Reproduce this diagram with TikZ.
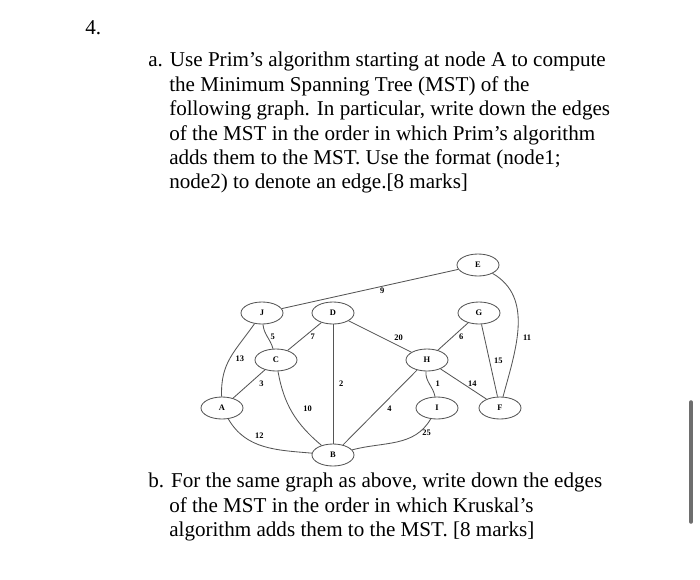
\documentclass[tikz,border=0pt]{standalone}
\usepackage{fontspec}
\setmainfont{Liberation Serif}
\usepackage{tikz}
\usetikzlibrary{arrows.meta,positioning,shapes.geometric}
\definecolor{qEdge}{HTML}{555555}
\definecolor{qBar}{HTML}{6E6E6E}

\begin{document}
\begin{tikzpicture}[x=0.025cm, y=-0.025cm,
  txt/.style={anchor=base west, inner sep=0pt, font=\fontsize{15}{18}\selectfont},
  vtx/.style={draw=qEdge, ellipse, line width=0.6pt, inner sep=0pt, minimum width=1.05cm, minimum height=0.55cm, font=\fontsize{6}{7}\selectfont\bfseries},
  edg/.style={draw=qEdge, line width=0.6pt},
  wt/.style={font=\fontsize{6}{7}\selectfont\bfseries, inner sep=1pt}
]
  \useasboundingbox (0,0) rectangle (700,580);

  % question text
  \node[txt] (num) at (85,34) {4.};
  \node[txt] (qa) at (148,66) {a. Use Prim’s algorithm starting at node A to compute};
  \node[txt] (qa2) at (169,91) {the Minimum Spanning Tree (MST) of the};
  \node[txt] (qa3) at (169,115) {following graph. In particular, write down the edges};
  \node[txt] (qa4) at (169,140) {of the MST in the order in which Prim’s algorithm};
  \node[txt] (qa5) at (169,164) {adds them to the MST. Use the format (node1;};
  \node[txt] (qa6) at (169,188) {node2) to denote an edge.[8 marks]};

  % graph
  \node[vtx] (E) at (478,265) {E};
  \node[vtx] (J) at (262,313) {J};
  \node[vtx] (D) at (333,313) {D};
  \node[vtx] (G) at (479,313) {G};
  \node[vtx] (C) at (276,360) {C};
  \node[vtx] (H) at (427,360) {H};
  \node[vtx] (A) at (222,408) {A};
  \node[vtx] (I) at (437,408) {I};
  \node[vtx] (F) at (500,408) {F};
  \node[vtx] (B) at (333,455) {B};

  \draw[edg] (J) -- node[wt, pos=0.57, below] {9} (E);
  \draw[edg] (J) to[out=-85, in=105] node[wt, right=1pt] {5} (C);
  \draw[edg] (J) to[out=235, in=92, looseness=1.1] node[wt, pos=0.52, right=3pt] {13} (A);
  \draw[edg] (D) -- node[wt, pos=0.5, right=3pt] {7} (C);
  \draw[edg] (D) -- node[wt, right=3pt] {2} (B);
  \draw[edg] (D) -- node[wt, pos=0.7, above right] {20} (H);
  \draw[edg] (C) -- node[wt, right=6pt] {3} (A);
  \draw[edg] (C) to[out=-80, in=140] node[wt, pos=0.45, right=8pt] {10} (B);
  \draw[edg] (A) to[out=-60, in=175] node[wt, pos=0.45, above=3pt] {12} (B);
  \draw[edg] (G) -- node[wt, pos=0.5, right=3pt] {6} (H);
  \draw[edg] (G) -- node[wt, pos=0.5, right=2pt] {15} (F);
  \draw[edg] (E) to[out=-30, in=75] node[wt, pos=0.58, right=3pt] {11} (F);
  \draw[edg] (H) to[out=-95, in=100] node[wt, right=3pt] {1} (I);
  \draw[edg] (H) -- node[wt, pos=0.5, right=2pt] {14} (F);
  \draw[edg] (H) -- node[wt, pos=0.52, right=5pt] {4} (B);
  \draw[edg] (I) to[out=-120, in=15] node[wt, pos=0.2, right=1pt] {25} (B);

  \node[txt] (qb) at (148,487) {b. For the same graph as above, write down the edges};
  \node[txt] (qb2) at (169,512) {of the MST in the order in which Kruskal’s};
  \node[txt] (qb3) at (169,536) {algorithm adds them to the MST. [8 marks]};

  % scroll bar
  \draw[qBar, line width=2.5pt, line cap=round] (691,402) -- (691,522);
\end{tikzpicture}
\end{document}
